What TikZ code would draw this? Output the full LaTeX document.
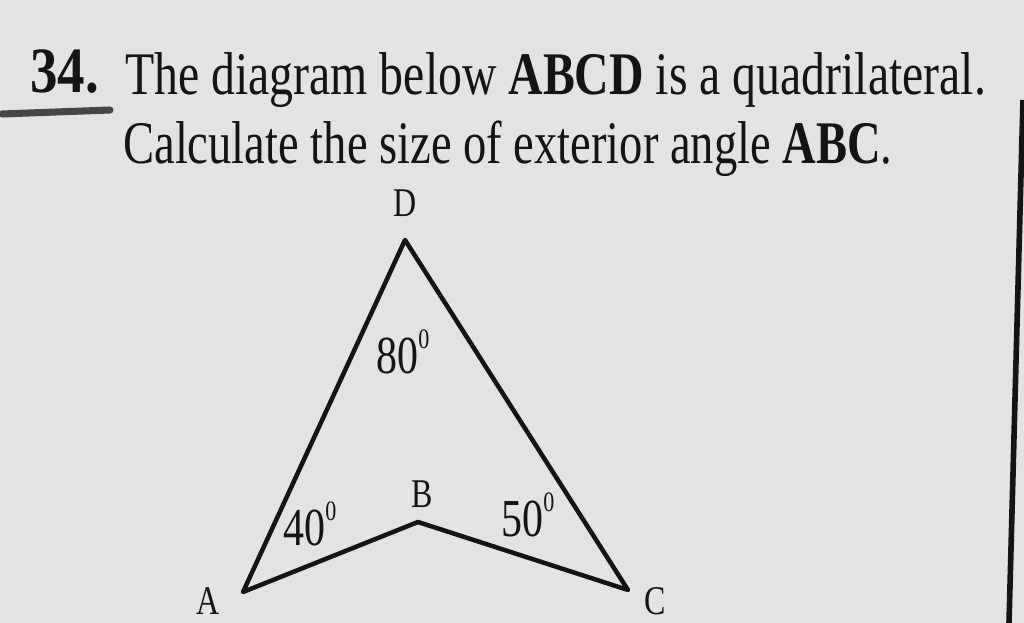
\documentclass[tikz,border=0pt]{standalone}
\usepackage{fontspec}
\setmainfont{Liberation Serif}
\usepackage{tikz}
\usetikzlibrary{positioning}
\definecolor{paper}{gray}{0.89}
\definecolor{ink}{gray}{0.08}
\tikzset{
x=0.025cm, y=-0.025cm, % one unit is one pixel of the page
side/.style={line width=3.2pt, ink, line join=round}, % the edges of the quadrilateral
head/.style={anchor=base west, inner sep=0pt, ink, font=\fontsize{43}{50}\selectfont}, % the question text
vertex/.style={inner sep=0pt, ink, font=\fontsize{29}{34}\selectfont}, % the letters at the corners
angle/.style={inner sep=0pt, ink, font=\fontsize{38}{44}\selectfont}, % the angle sizes
}
\newcommand{\squeeze}[2][0.785]{\scalebox{#1}[1]{#2}}
\newcommand{\degmark}{\raisebox{1.0ex}{\fontsize{20}{20}\selectfont 0}}
\begin{document}
\begin{tikzpicture}
\fill[paper] (0,0) rectangle (1024,623);
\useasboundingbox (0,0) rectangle (1024,623);
% question
\node[head] (num) at (30,93) {\squeeze[0.85]{\fontsize{46}{50}\selectfont\textbf{34.}}};
\node[head] (line1) at (125,95) {\squeeze[0.79]{The diagram below \textbf{ABCD} is a quadrilateral.}};
\node[head] (line2) at (123,163) {\squeeze[0.77]{Calculate the size of exterior angle \textbf{ABC}.}};
\draw[line width=5pt, gray!55!black, line cap=round] (2,114) -- (110,110);
\draw[line width=4pt, ink] (1023,100) -- (1009,623);
% quadrilateral
\coordinate (A) at (243,592);
\coordinate (B) at (418,522);
\coordinate (C) at (628,590);
\coordinate (D) at (405,240);
\draw[side] (A) -- (B) -- (C) -- (D) -- cycle;
\node[vertex] (lD) at (405,203) {\squeeze{D}};
\node[vertex] (lB) at (422,494) {\squeeze{B}};
\node[vertex] (lA) at (208,601) {\squeeze{A}};
\node[vertex] (lC) at (655,601) {\squeeze{C}};
\node[angle] (aD) at (403,352) {\squeeze{80\degmark}};
\node[angle] (aA) at (310,524) {\squeeze{40\degmark}};
\node[angle] (aC) at (528,515) {\squeeze{50\degmark}};
\end{tikzpicture}
\end{document}
